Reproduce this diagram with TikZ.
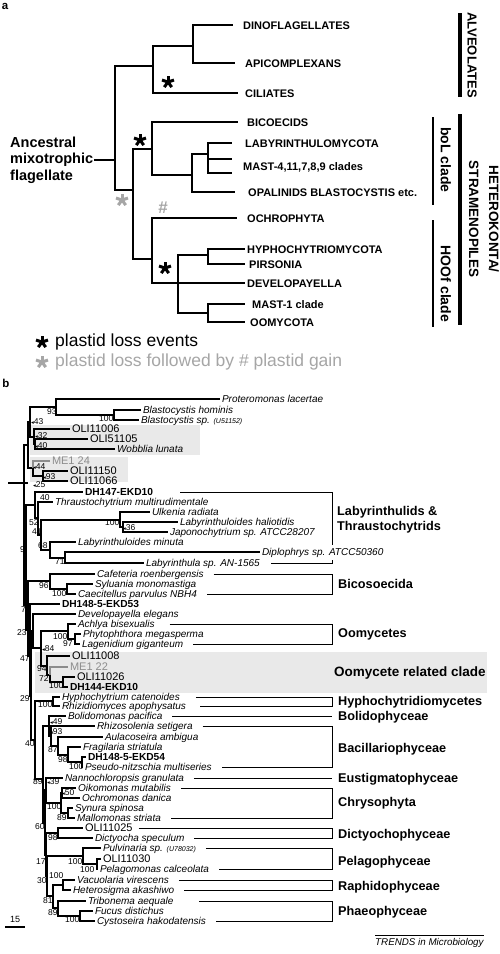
\documentclass[tikz,border=0pt]{standalone}
\usepackage{fontspec}
\setmainfont{Liberation Sans}
\newfontfamily\symfont{DejaVu Sans}
\usepackage{tikz}
\usetikzlibrary{backgrounds}

\definecolor{lossgrey}{HTML}{A6A6A6}
\definecolor{boxgrey}{HTML}{E9E9E9}
\definecolor{megrey}{HTML}{8C8C8C}

% asterisk for a plastid loss
\newcommand{\lossmark}[2]{%
  \foreach \ang in {90,162,234,306,18}
    \draw[#2, line width=3pt] (#1) -- ++(\ang:6.3pt);}
% small pointer in front of a support value
\newcommand{\tinyptr}{{\symfont\fontsize{5.5}{5.5}\selectfont\char"25C2}}

\begin{document}
\begin{tikzpicture}[
  x=1pt, y=-1pt,
  tr/.style={line width=2.8pt},
  thk/.style={line width=3.4pt},
  thn/.style={line width=1.5pt},
  lfa/.style={anchor=west, inner sep=0pt, text height=8pt, text depth=0pt,
              font=\fontsize{11}{11}\selectfont\bfseries},
  rlab/.style={rotate=-90, inner sep=0pt, align=center,
               font=\fontsize{13}{20}\selectfont\bfseries},
  lgd/.style={anchor=west, inner sep=0pt, font=\fontsize{17.5}{17.5}\selectfont},
  pl/.style={inner sep=0pt, font=\fontsize{11.5}{12}\selectfont\bfseries},
  br/.style={line width=1.3pt},
  tl/.style={line width=1pt},
  sp/.style={anchor=west, inner xsep=0pt, inner ysep=0pt, outer xsep=2pt,
             outer ysep=0pt, text height=7pt, text depth=0pt,
             font=\fontsize{10}{10}\selectfont\itshape},
  spb/.style={sp, font=\fontsize{10.2}{10}\selectfont\bfseries},
  oli/.style={sp, text height=7.8pt, font=\fontsize{11}{11}\selectfont},
  me/.style={oli, text=megrey},
  bs/.style={anchor=west, inner sep=0pt, font=\fontsize{8.5}{8.5}\selectfont},
  grp/.style={anchor=west, inner sep=0pt, align=left,
              font=\fontsize{12.7}{15}\selectfont\bfseries},
]
\useasboundingbox (0,0) rectangle (500,954);

%% ---- panel a: tree ----
\node[pl] (pa) at (5,6) {a};
\node[anchor=west, inner sep=1pt, align=left,
      font=\fontsize{14.5}{16.5}\selectfont\bfseries] (anc) at (9,160)
      {Ancestral\\mixotrophic\\flagellate};

\coordinate (ar0)   at (115,160);
\coordinate (aalv)  at (153,66);
\coordinate (adin)  at (193,46);
\coordinate (astr)  at (133,190);
\coordinate (abol)  at (152,149);
\coordinate (aopn)  at (192,175);
\coordinate (alab)  at (208,154);
\coordinate (amA)   at (232,159);
\coordinate (amB)   at (232,173);
\coordinate (ahoof) at (152,259);
\coordinate (adev)  at (178,283);
\coordinate (ahyp)  at (208,255);
\coordinate (aoom)  at (208,313);

\node[lfa] (dino)  at (243,25)  {DINOFLAGELLATES};
\node[lfa] (apic)  at (245,63)  {APICOMPLEXANS};
\node[lfa] (cil)   at (245,93)  {CILIATES};
\node[lfa] (bicoe) at (247,122) {BICOECIDS};
\node[lfa] (labyr) at (245,143) {LABYRINTHULOMYCOTA};
\node[lfa] (mast4) at (243,166) {MAST-4,11,7,8,9 clades};
\node[lfa] (opal)  at (248,192) {OPALINIDS BLASTOCYSTIS etc.};
\node[lfa] (ochro) at (247,218) {OCHROPHYTA};
\node[lfa] (hypho) at (247,249) {HYPHOCHYTRIOMYCOTA};
\node[lfa] (pirs)  at (249,264) {PIRSONIA};
\node[lfa] (devel) at (247,283) {DEVELOPAYELLA};
\node[lfa] (mast1) at (252,304) {MAST-1 clade};
\node[lfa] (oomy)  at (250,322) {OOMYCOTA};

\draw[tr] (ar0 -| anc.east) -- (ar0);
\draw[tr] (ar0) |- (aalv);
\draw[tr] (ar0) |- (astr);
\draw[tr] (aalv) |- (adin);
\draw[tr, shorten >=7pt]  (aalv) |- (cil);
\draw[tr, shorten >=10pt] (adin) |- (dino);
\draw[tr, shorten >=10pt] (adin) |- (apic);
\draw[tr] (astr) |- (abol);
\draw[tr] (astr) |- (ahoof);
\draw[tr, shorten >=9pt]  (abol) |- (bicoe);
\draw[tr] (abol) |- (aopn);
\draw[tr] (aopn) |- (alab);
\draw[tr, shorten >=13pt] (aopn) |- (opal);
\draw[tr, shorten >=13pt] (alab) |- (labyr);
\draw[tr] (alab) |- (amA);
\draw[tr] (alab) |- (amB);
\draw[tr, shorten >=10pt] (ahoof) |- (ochro);
\draw[tr] (ahoof) |- (adev);
\draw[tr] (adev) |- (ahyp);
\draw[tr, shorten >=2pt] (adev) |- (devel);
\draw[tr] (adev) |- (aoom);
\draw[tr, shorten >=2pt] (ahyp) |- (hypho);
\draw[tr, shorten >=4pt] (ahyp) |- (pirs);
\draw[tr, shorten >=7pt] (aoom) |- (mast1);
\draw[tr, shorten >=5pt] (aoom) |- (oomy);

% loss / gain marks
\coordinate (xcil)  at (168,82);
\coordinate (xhet)  at (140,140);
\coordinate (xhoof) at (165,268);
\coordinate (xgry)  at (122,200);
\lossmark{xcil}{black}
\lossmark{xhet}{black}
\lossmark{xhoof}{black}
\lossmark{xgry}{lossgrey}
\node[text=lossgrey, inner sep=0pt, font=\fontsize{17}{17}\selectfont\bfseries] (gain)
  at (163,208) {\#};

%% ---- panel a: group bars ----
\draw[thk] (460,13) -- (460,97);
\draw[thk] (460,114) -- (460,325);
\draw[thn] (433,117) -- (433,205);
\draw[thn] (433,220) -- (433,327);
\node[rlab] (alvl) at (472,55) {ALVEOLATES};
\node[rlab, font=\fontsize{13.5}{20}\selectfont\bfseries] (hetl) at (484,219)
  {HETEROKONTA/\\STRAMENOPILES};
\node[rlab, font=\fontsize{14}{14}\selectfont\bfseries] (boll)  at (446,160) {boL clade};
\node[rlab, font=\fontsize{14}{14}\selectfont\bfseries] (hoofl) at (446,284) {HOOf clade};

%% ---- legend ----
\coordinate (lgA) at (42,342);
\coordinate (lgB) at (42,362);
\lossmark{lgA}{black}
\lossmark{lgB}{lossgrey}
\node[lgd] (lg1) at (55,342) {plastid loss events};
\node[lgd, text=lossgrey] (lg2) at (55,362) {plastid loss followed by \# plastid gain};

%% ---- panel b: leaves ----
\node[pl] (pb) at (6,383) {b};

\node[sp]  (prot)   at (220,399) {Proteromonas lacertae};
\node[sp]  (bhom)   at (141,410) {Blastocystis hominis};
\node[sp]  (bsp)    at (139,420) {Blastocystis sp. {\fontsize{7}{7}\selectfont (U51152)}};
\node[oli] (o11006) at (70,429)  {OLI11006};
\node[oli] (o51105) at (88,439)  {OLI51105};
\node[sp]  (wob)    at (115,449) {Wobblia lunata};
\node[me]  (me124)  at (50,461)  {ME1 24};
\node[oli] (o11150) at (68,471)  {OLI11150};
\node[oli] (o11066) at (68,481)  {OLI11066};
\node[spb] (dh147)  at (83,492)  {DH147-EKD10};
\node[sp]  (thr)    at (53,502)  {Thraustochytrium multirudimentale};
\node[sp]  (ulk)    at (150,512) {Ulkenia radiata};
\node[sp]  (lhal)   at (178,522) {Labyrinthuloides haliotidis};
\node[sp]  (jap)    at (168,532) {Japonochytrium sp. ATCC28207};
\node[sp]  (lmin)   at (76,542)  {Labyrinthuloides minuta};
\node[sp, fill=white, inner ysep=4pt] (dip) at (260,552) {Diplophrys sp. ATCC50360};
\node[sp]  (lsp)    at (144,563) {Labyrinthula sp. AN-1565};
\node[sp]  (caf)    at (95,574)  {Cafeteria roenbergensis};
\node[sp]  (syl)    at (93,584)  {Syluania monomastiga};
\node[sp]  (cae)    at (76,594)  {Caecitellus parvulus NBH4};
\node[spb] (ekd53)  at (60,604)  {DH148-5-EKD53};
\node[sp]  (dev)    at (76,614)  {Developayella elegans};
\node[sp]  (ach)    at (76,624)  {Achlya bisexualis};
\node[sp]  (phy)    at (81,634)  {Phytophthora megasperma};
\node[sp]  (lag)    at (80,644)  {Lagenidium giganteum};
\node[oli] (o11008) at (70,656)  {OLI11008};
\node[me]  (me122)  at (68,667)  {ME1 22};
\node[oli] (o11026) at (75,677)  {OLI11026};
\node[spb] (dh144)  at (68,687)  {DH144-EKD10};
\node[sp]  (hyp)    at (60,697)  {Hyphochytrium catenoides};
\node[sp]  (rhi)    at (60,706)  {Rhizidiomyces apophysatus};
\node[sp]  (bolm)   at (66,716)  {Bolidomonas pacifica};
\node[sp]  (rhs)    at (95,726)  {Rhizosolenia setigera};
\node[sp]  (aul)    at (103,737) {Aulacoseira ambigua};
\node[sp]  (fra)    at (81,747)  {Fragilaria striatula};
\node[spb] (ekd54)  at (86,757)  {DH148-5-EKD54};
\node[sp]  (pse)    at (83,767)  {Pseudo-nitzschia multiseries};
\node[sp]  (nan)    at (63,778)  {Nannochloropsis granulata};
\node[sp]  (oik)    at (76,788)  {Oikomonas mutabilis};
\node[sp]  (och)    at (80,798)  {Ochromonas danica};
\node[sp]  (syn)    at (73,808)  {Synura spinosa};
\node[sp]  (mal)    at (75,818)  {Mallomonas striata};
\node[oli] (o11025) at (83,828)  {OLI11025};
\node[sp]  (dic)    at (93,838)  {Dictyocha speculum};
\node[sp]  (pul)    at (101,848) {Pulvinaria sp. {\fontsize{7}{7}\selectfont (U78032)}};
\node[oli] (o11030) at (101,859) {OLI11030};
\node[sp]  (pel)    at (98,869)  {Pelagomonas calceolata};
\node[sp]  (vac)    at (75,880)  {Vacuolaria virescens};
\node[sp]  (het)    at (71,890)  {Heterosigma akashiwo};
\node[sp]  (tri)    at (86,901)  {Tribonema aequale};
\node[sp]  (fuc)    at (93,911)  {Fucus distichus};
\node[sp]  (cys)    at (95,921)  {Cystoseira hakodatensis};

%% ---- panel b: inner nodes ----
\coordinate (n100a) at (114,415);
\coordinate (n93)   at (56,407);
\coordinate (n40)   at (35,444);
\coordinate (n32)   at (34,437);
\coordinate (n43)   at (30,422);
\coordinate (n93b)  at (43,476);
\coordinate (n44)   at (33,468);
\coordinate (ntop)  at (28,445);
\coordinate (n36)   at (123,527);
\coordinate (n100b) at (120,520);
\coordinate (n71)   at (65,558);
\coordinate (n68)   at (50,550);
\coordinate (n41)   at (41,535);
\coordinate (n52)   at (38,518);
\coordinate (nlab)  at (35,505);
\coordinate (n100s) at (67,589);
\coordinate (nbico) at (50,581);
\coordinate (n97)   at (75,639);
\coordinate (n100c) at (68,631);
\coordinate (n100d) at (63,682);
\coordinate (n72)   at (50,675);
\coordinate (n94)   at (47,666);
\coordinate (n84)   at (41,648);
\coordinate (ndev)  at (33,631);
\coordinate (n100e) at (53,701);
\coordinate (n100f) at (82,762);
\coordinate (n98)   at (68,755);
\coordinate (n87)   at (58,746);
\coordinate (n93c)  at (51,736);
\coordinate (n49)   at (49,726);
\coordinate (n50)   at (62,793);
\coordinate (n89b)  at (68,813);
\coordinate (n100g) at (61,803);
\coordinate (n39)   at (46,790);
\coordinate (n98b)  at (58,833);
\coordinate (n100h) at (97,864);
\coordinate (n100i) at (83,856);
\coordinate (n100j) at (63,885);
\coordinate (n100k) at (80,916);
\coordinate (n89c)  at (58,908);
\coordinate (n81)   at (53,896);
% backbone
\coordinate (s30) at (47,876);
\coordinate (s17) at (46,855);
\coordinate (s60) at (45,823);
\coordinate (s89) at (43,779);
\coordinate (s40) at (35,740);
\coordinate (s29) at (31,696);
\coordinate (s47) at (30,656);
\coordinate (s23) at (28,630);
\coordinate (s7)  at (26,605);
\coordinate (s9)  at (24,547);
\coordinate (root) at (8,483);

%% ---- panel b: branches ----
\draw[br] (n93) |- (prot) (n93) |- (n100a);
\draw[br] (n100a) |- (bhom) (n100a) |- (bsp);
\draw[br] (n43) |- (n93) (n43) |- (n32);
\draw[br] (n32) |- (o11006) (n32) |- (n40);
\draw[br] (n40) |- (o51105) (n40) |- (wob);
\draw[br] (ntop) |- (n43) (ntop) |- (n44);
\draw[br, megrey] (n44) |- (me124);
\draw[br] (n44) |- (n93b);
\draw[br] (n93b) |- (o11150) (n93b) |- (o11066);
\draw[br] (nlab) |- (dh147) (nlab) |- (n52);
\draw[br] (n52) |- (thr) (n52) |- (n41);
\draw[br] (n41) |- (n100b) (n41) |- (n68);
\draw[br] (n100b) |- (ulk) (n100b) |- (n36);
\draw[br] (n36) |- (lhal) (n36) |- (jap);
\draw[br] (n68) |- (lmin) (n68) |- (n71);
\draw[br] (n71) |- (dip) (n71) |- (lsp);
\draw[br] (nbico) |- (caf) (nbico) |- (n100s);
\draw[br] (n100s) |- (syl) (n100s) |- (cae);
\draw[br] (ndev) |- (dev) (ndev) |- (n84);
\draw[br] (n84) |- (n100c) (n84) |- (n94);
\draw[br] (n100c) |- (ach) (n100c) |- (n97);
\draw[br] (n97) |- (phy) (n97) |- (lag);
\draw[br] (n94) |- (o11008) (n94) |- (n72);
\draw[br, megrey] (n72) |- (me122);
\draw[br] (n72) |- (n100d);
\draw[br] (n100d) |- (o11026) (n100d) |- (dh144);
\draw[br] (n100e) |- (hyp) (n100e) |- (rhi);
\draw[br] (n49) |- (bolm) (n49) |- (n93c);
\draw[br] (n93c) |- (rhs) (n93c) |- (n87);
\draw[br] (n87) |- (aul) (n87) |- (n98);
\draw[br] (n98) |- (fra) (n98) |- (n100f);
\draw[br] (n100f) |- (ekd54) (n100f) |- (pse);
\draw[br] (n39) |- (nan) (n39) |- (n100g);
\draw[br] (n100g) |- (n50) (n100g) |- (n89b);
\draw[br] (n50) |- (oik) (n50) |- (och);
\draw[br] (n89b) |- (syn) (n89b) |- (mal);
\draw[br] (n98b) |- (o11025) (n98b) |- (dic);
\draw[br] (n100i) |- (pul) (n100i) |- (n100h);
\draw[br] (n100h) |- (o11030) (n100h) |- (pel);
\draw[br] (n81) |- (n100j) (n81) |- (n89c);
\draw[br] (n100j) |- (vac) (n100j) |- (het);
\draw[br] (n89c) |- (tri) (n89c) |- (n100k);
\draw[br] (n100k) |- (fuc) (n100k) |- (cys);
% backbone
\draw[br] (s9) |- (ntop) (s9) |- (s7);
\draw[br] (s7) |- (nlab) (s7) |- (s23);
\draw[br] (s23) |- (nbico) (s23) |- (s47);
\draw[br] (s47) |- (ekd53) (s47) |- (s29);
\draw[br] (s29) |- (ndev) (s29) |- (s40);
\draw[br] (s40) |- (n100e) (s40) |- (s89);
\draw[br] (s89) |- (n49) (s89) |- (s60);
\draw[br] (s60) |- (n39) (s60) |- (s17);
\draw[br] (s17) |- (n98b) (s17) |- (s30);
\draw[br] (s30) |- (n100i) (s30) |- (n81);
\draw[br, line width=2pt] (root) -- (root -| ntop);

%% ---- panel b: support values ----
\node[bs] (b93)   at (47,412)  {93};
\node[bs] (b100a) at (99,419)  {100};
\node[bs] (b43)   at (31,422)  {\tinyptr43};
\node[bs] (b32)   at (35,436)  {\tinyptr32};
\node[bs] (b40)   at (35,446)  {\tinyptr40};
\node[bs] (b44)   at (33,467)  {\tinyptr44};
\node[bs] (b93b)  at (43,477)  {\tinyptr93};
\node[bs] (b25)   at (33,485)  {\tinyptr25};
\node[bs] (b40t)  at (40,498)  {40};
\node[bs] (b52)   at (29,523)  {52};
\node[bs] (b100b) at (105,523) {100};
\node[bs] (b36)   at (123,528) {\tinyptr36};
\node[bs] (b41)   at (32,532)  {41};
\node[bs] (b68)   at (38,546)  {68};
\node[bs] (b71)   at (55,562)  {71};
\node[bs] (b9)    at (20,550)  {9};
\node[bs] (b96)   at (39,586)  {96};
\node[bs] (b100s) at (52,594)  {100};
\node[bs] (b7)    at (21,610)  {7};
\node[bs] (b23)   at (17,633)  {23};
\node[bs] (b100c) at (53,637)  {100};
\node[bs] (b97)   at (63,644)  {97};
\node[bs] (b84)   at (42,649)  {\tinyptr84};
\node[bs] (b47)   at (20,659)  {47};
\node[bs] (b94)   at (37,669)  {94};
\node[bs] (b72)   at (39,679)  {72};
\node[bs] (b100d) at (49,686)  {100};
\node[bs] (b29)   at (20,699)  {29};
\node[bs] (b100e) at (38,705)  {100};
\node[bs] (b49)   at (50,722)  {\tinyptr49};
\node[bs] (b93c)  at (50,732)  {\tinyptr93};
\node[bs] (b40s)  at (25,744)  {40};
\node[bs] (b87)   at (48,750)  {87};
\node[bs] (b98)   at (58,760)  {98};
\node[bs] (b100f) at (69,767)  {100};
\node[bs] (b89)   at (33,782)  {89};
\node[bs] (b39)   at (47,782)  {\tinyptr39};
\node[bs] (b50)   at (62,793)  {\tinyptr50};
\node[bs] (b100g) at (47,807)  {100};
\node[bs] (b89b)  at (57,818)  {89};
\node[bs] (b60)   at (35,827)  {60};
\node[bs] (b98b)  at (48,838)  {98};
\node[bs] (b17)   at (36,862)  {17};
\node[bs] (b100i) at (68,862)  {100};
\node[bs] (b100h) at (80,870)  {100};
\node[bs] (b30)   at (37,881)  {30};
\node[bs] (b100j) at (49,876)  {100};
\node[bs] (b81)   at (43,901)  {81};
\node[bs] (b89c)  at (48,913)  {89};
\node[bs] (b100k) at (65,920)  {100};

%% ---- panel b: group names ----
\node[grp] (glab)  at (337,520) {Labyrinthulids \&\\Thraustochytrids};
\node[grp] (gbic)  at (338,584) {Bicosoecida};
\node[grp] (goom)  at (338,634) {Oomycetes};
\node[grp, font=\fontsize{13.5}{14}\selectfont\bfseries] (gorc) at (334,673)
  {Oomycete related clade};
\node[grp] (ghyp)  at (338,702) {Hyphochytridiomycetes};
\node[grp] (gbol)  at (338,717) {Bolidophyceae};
\node[grp] (gbac)  at (338,749) {Bacillariophyceae};
\node[grp] (geus)  at (338,779) {Eustigmatophyceae};
\node[grp] (gchr)  at (338,803) {Chrysophyta};
\node[grp] (gdic)  at (338,835) {Dictyochophyceae};
\node[grp] (gpel)  at (338,862) {Pelagophyceae};
\node[grp] (graph) at (338,887) {Raphidophyceae};
\node[grp] (gpha)  at (338,912) {Phaeophyceae};

%% ---- scale and credit ----
\node[bs, font=\fontsize{9}{9}\selectfont] (scl) at (10,919) {15};
\draw[line width=1.2pt] (5,927) -- (25,927);
\node[anchor=west, inner sep=0pt, font=\fontsize{9.8}{10}\selectfont\itshape]
  (trend) at (375,943) {TRENDS in Microbiology};
\draw[line width=0.6pt] ([yshift=3pt]trend.north west) -- ([yshift=3pt]trend.north east);

%% ---- boxes and brackets ----
\begin{scope}[on background layer]
  \fill[white] (0,0) rectangle (500,954);
  \fill[boxgrey] (30,425) rectangle (200,455);
  \fill[boxgrey] (30,457) rectangle (128,482);
  \fill[boxgrey] (35,652) rectangle (487,693);
  \coordinate (bk) at (332,0);
  \draw[tl] ([xshift=25pt]dh147.east) -- (dh147.east -| bk)
            -- (lsp.east -| bk) -- ([xshift=9pt]lsp.east);
  \draw[tl] ([xshift=8pt]caf.east) -- (caf.east -| bk)
            -- (cae.east -| bk) -- ([xshift=8pt]cae.east);
  \draw[tl] ([xshift=13pt]ach.east) -- (ach.east -| bk)
            -- (lag.east -| bk) -- ([xshift=8pt]lag.east);
  \draw[tl] ([xshift=14pt]hyp.east) -- (hyp.east -| bk)
            -- (rhi.east -| bk) -- ([xshift=12pt]rhi.east);
  \draw[tl] ([xshift=8pt]bolm.east) -- (bolm.east -| bk);
  \draw[tl] ([xshift=8pt]rhs.east) -- (rhs.east -| bk)
            -- (pse.east -| bk) -- ([xshift=8pt]pse.east);
  \draw[tl] ([xshift=8pt]nan.east) -- (nan.east -| bk);
  \draw[tl] ([xshift=8pt]oik.east) -- (oik.east -| bk)
            -- (mal.east -| bk) -- ([xshift=8pt]mal.east);
  \draw[tl] ([xshift=4pt]o11025.east) -- (o11025.east -| bk)
            -- (dic.east -| bk) -- ([xshift=8pt]dic.east);
  \draw[tl] ([xshift=8pt]pul.east) -- (pul.east -| bk)
            -- (pel.east -| bk) -- ([xshift=8pt]pel.east);
  \draw[tl] ([xshift=8pt]vac.east) -- (vac.east -| bk)
            -- (het.east -| bk) -- ([xshift=8pt]het.east);
  \draw[tl] ([xshift=24pt]tri.east) -- (tri.east -| bk)
            -- (cys.east -| bk) -- ([xshift=8pt]cys.east);
\end{scope}

\end{tikzpicture}
\end{document}
